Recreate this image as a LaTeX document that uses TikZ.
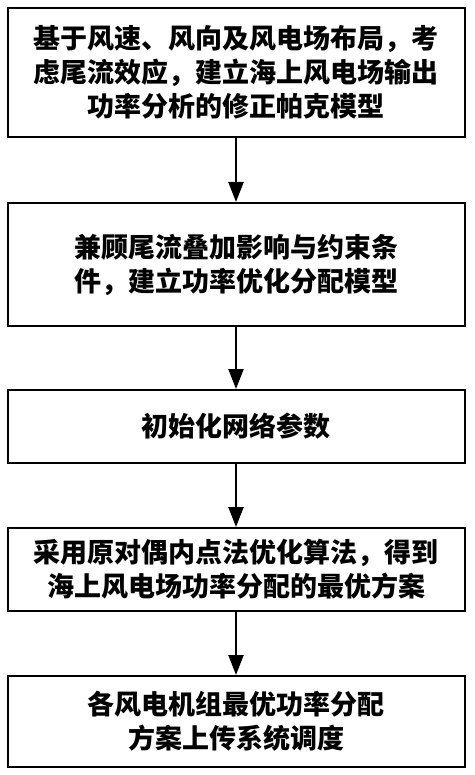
\documentclass[tikz,border=0pt]{standalone}
\usepackage{fontspec}
\newfontfamily\cjk{Noto Sans CJK SC}
\usetikzlibrary{arrows.meta}

\begin{document}
\begin{tikzpicture}[x=1pt, y=-1pt,
	stepbox/.style={shape=rectangle, draw, line width=2pt, minimum width=457pt, align=center, inner sep=0pt, font=\cjk\bfseries\fontsize{27}{34}\selectfont},
	flow/.style={line width=2.2pt, -{Triangle[length=20pt, width=15pt]}}]
	\useasboundingbox (0, 0) rectangle (474, 775);
	% Boxes:
	\node[stepbox, minimum height=129pt](B1) at (236, 72.5){基于风速、风向及风电场布局，考\\虑尾流效应，建立海上风电场输出\\功率分析的修正帕克模型};
	\node[stepbox, minimum height=123pt](B2) at (236, 264.5){兼顾尾流叠加影响与约束条\\件，建立功率优化分配模型};
	\node[stepbox, minimum height=73pt](B3) at (236, 426.5){初始化网络参数};
	\node[stepbox, minimum height=83pt](B4) at (236, 569.5){采用原对偶内点法优化算法，得到\\海上风电场功率分配的最优方案};
	\node[stepbox, minimum height=91pt](B5) at (236, 721.5){各风电机组最优功率分配\\方案上传系统调度};
	% Arrows:
	\draw[flow] (B1) -- (B2);
	\draw[flow] (B2) -- (B3);
	\draw[flow] (B3) -- (B4);
	\draw[flow] (B4) -- (B5);
\end{tikzpicture}
\end{document}
